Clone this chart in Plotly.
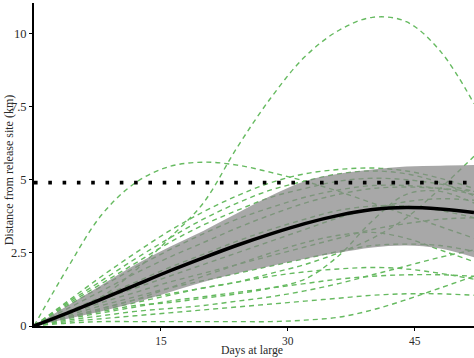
import plotly.graph_objects as go

# ---------------- data ----------------
days = [0, 4, 8, 12, 16, 20, 24, 28, 32, 36, 40, 44, 48, 52]

mean_distance = [0, 0.45, 0.92, 1.4, 1.88, 2.33, 2.76, 3.15, 3.5, 3.78, 3.98, 4.05, 4.0, 3.88]
band_lower = [0, 0.25, 0.5, 0.8, 1.15, 1.5, 1.8, 2.05, 2.3, 2.5, 2.68, 2.75, 2.65, 2.35]
band_upper = [0, 0.7, 1.4, 2.1, 2.7, 3.25, 3.85, 4.45, 4.95, 5.2, 5.35, 5.45, 5.48, 5.5]

threshold_km = 4.9

track_01 = [0, 0.4, 1.0, 1.9, 3.0, 4.2, 6.1, 7.8, 9.2, 10.1, 10.55, 10.4, 9.4, 7.6]
track_02 = [0, 2.0, 3.8, 4.9, 5.45, 5.6, 5.5, 5.25, 4.95, 4.6, 4.2, 3.8, 3.4, 3.0]
track_03 = [0, 0.3, 0.6, 0.9, 1.1, 1.3, 1.5, 1.8, 2.1, 2.5, 3.0, 3.7, 4.7, 5.8]
track_04 = [0, 0.3, 0.5, 0.7, 0.8, 0.95, 1.1, 1.3, 1.6, 2.4, 3.6, 4.5, 4.6, 4.2]
track_05 = [0, 0.85, 1.7, 2.5, 3.25, 3.9, 4.45, 4.9, 5.2, 5.35, 5.4, 5.3, 5.05, 4.7]
track_06 = [0, 0.8, 1.55, 2.3, 3.0, 3.65, 4.2, 4.65, 4.95, 5.2, 5.3, 5.2, 4.9, 4.45]
track_07 = [0, 0.75, 1.45, 2.15, 2.85, 3.45, 3.95, 4.4, 4.7, 4.95, 5.05, 5.0, 4.85, 4.6]
track_08 = [0, 0.7, 1.35, 2.0, 2.6, 3.15, 3.65, 4.05, 4.4, 4.65, 4.8, 4.8, 4.7, 4.5]
track_09 = [0, 0.6, 1.2, 1.8, 2.35, 2.85, 3.35, 3.8, 4.2, 4.5, 4.7, 4.75, 4.7, 4.6]
track_10 = [0, 0.5, 1.0, 1.5, 2.0, 2.45, 2.9, 3.3, 3.65, 3.95, 4.1, 4.1, 3.95, 3.7]
track_11 = [0, 0.45, 0.9, 1.3, 1.7, 2.1, 2.5, 2.9, 3.3, 3.7, 4.0, 4.25, 4.35, 4.3]
track_12 = [0, 0.4, 0.8, 1.15, 1.5, 1.8, 2.1, 2.4, 2.7, 3.0, 3.3, 3.5, 3.65, 3.7]
track_13 = [0, 0.35, 0.7, 1.0, 1.3, 1.55, 1.8, 2.05, 2.3, 2.55, 2.75, 2.8, 2.75, 2.55]
track_14 = [0, 0.3, 0.55, 0.8, 1.05, 1.3, 1.5, 1.7, 1.85, 1.95, 2.0, 1.95, 1.8, 1.6]
track_15 = [0, 0.25, 0.45, 0.65, 0.85, 1.0, 1.15, 1.3, 1.45, 1.6, 1.7, 1.75, 1.75, 1.7]
track_16 = [0, 0.2, 0.35, 0.5, 0.6, 0.7, 0.85, 1.0, 1.2, 1.45, 1.75, 2.05, 2.35, 2.6]
track_17 = [0, 0.15, 0.25, 0.35, 0.45, 0.55, 0.65, 0.75, 0.85, 0.95, 1.05, 1.1, 1.1, 1.05]
track_18 = [0, 0.1, 0.15, 0.15, 0.15, 0.15, 0.15, 0.15, 0.2, 0.3, 0.55, 0.9, 1.3, 1.7]
track_19 = [0, 0.3, 0.6, 0.9, 1.3, 1.7, 2.1, 2.5, 2.85, 3.1, 3.2, 3.0, 2.6, 2.2]

tracks = [track_01, track_02, track_03, track_04, track_05, track_06, track_07,
          track_08, track_09, track_10, track_11, track_12, track_13, track_14,
          track_15, track_16, track_17, track_18, track_19]

x_ticks = [15, 30, 45]
y_ticks = [0, 2.5, 5, 7.5, 10]
y_tick_labels = ["0", "2.5", "5", "7.5", "10"]

# ---------------- figure ----------------
FONT = "Liberation Serif, Times New Roman, serif"
TEXT = "#2a2a2a"
fig = go.Figure()

for t in tracks:
    fig.add_trace(go.Scatter(
        x=days, y=t, mode="lines",
        line=dict(color="rgb(102,186,96)", width=1.4, dash="5px,4px",
                  shape="spline", smoothing=1.0),
        hoverinfo="skip", showlegend=False))

# confidence band
fig.add_trace(go.Scatter(
    x=days, y=band_lower, mode="lines",
    line=dict(width=0, shape="spline", smoothing=1.0),
    hoverinfo="skip", showlegend=False))
fig.add_trace(go.Scatter(
    x=days, y=band_upper, mode="lines", fill="tonexty",
    fillcolor="rgba(135,135,135,0.72)",
    line=dict(width=0, shape="spline", smoothing=1.0),
    hoverinfo="skip", showlegend=False))

# mean curve
fig.add_trace(go.Scatter(
    x=days, y=mean_distance, mode="lines",
    line=dict(color="black", width=3.5, shape="spline", smoothing=1.0),
    showlegend=False))

# threshold dotted line
fig.add_trace(go.Scatter(
    x=[days[0], days[-1]], y=[threshold_km, threshold_km], mode="lines",
    line=dict(color="black", width=3.8, dash="3.6px,10.7px"),
    showlegend=False))

fig.update_layout(
    width=474, height=358,
    margin=dict(l=34, r=0, t=3, b=31.5, autoexpand=False),
    paper_bgcolor="white", plot_bgcolor="white",
    font=dict(family=FONT, size=12, color=TEXT),
    showlegend=False,
)
fig.update_xaxes(
    range=[0, 52], tickvals=x_ticks, ticks="outside", ticklen=3,
    tickwidth=1, tickcolor="black", showline=True, linecolor="black",
    linewidth=2, showgrid=False, zeroline=False, automargin=False,
    tickfont=dict(family=FONT, size=11.5, color=TEXT))
fig.update_yaxes(
    range=[0, 11.04], tickvals=y_ticks, ticktext=y_tick_labels,
    ticks="outside", ticklen=3, tickwidth=1, tickcolor="black",
    showline=True, linecolor="black", linewidth=2, showgrid=False,
    zeroline=False, automargin=False,
    tickfont=dict(family=FONT, size=12.5, color=TEXT))

fig.add_annotation(text="Days at large", xref="paper", yref="paper",
                   x=0.4955, y=-0.074, yanchor="middle", xanchor="center",
                   showarrow=False, font=dict(family=FONT, size=11.8, color=TEXT))
fig.add_annotation(text="Distance from release site (km)", xref="paper", yref="paper",
                   x=-0.056, y=0.483, textangle=-90, xanchor="center",
                   yanchor="middle", showarrow=False,
                   font=dict(family=FONT, size=12, color=TEXT))

fig.write_html(
    "out.html",
    config={"displayModeBar": False},
    post_script="document.body.style.margin='0';document.body.style.overflow='hidden';",
)
